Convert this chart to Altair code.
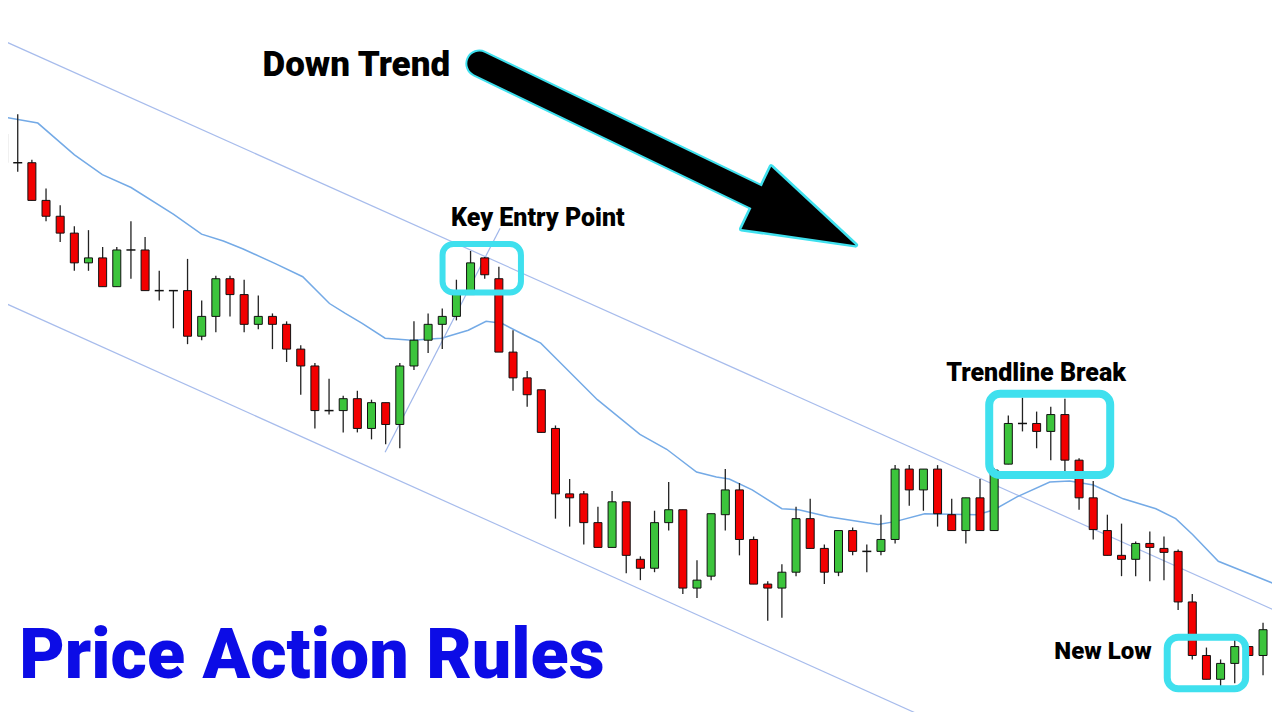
import altair as alt
import pandas as pd

# ---- candle data (index, open, high, low, close) ----
opens = [591, 562, 562, 524, 508, 491, 461, 466, 437, 474, 474, 433, 433, 433, 387, 407, 445, 429, 399, 407,
         399, 374, 357, 312, 312, 324, 294, 320, 298, 357, 383, 399, 407, 429, 466, 445, 371, 345, 333, 294,
         228, 228, 199, 174, 220, 162, 153, 199, 212, 133, 145, 207, 232, 182, 137, 133, 149, 203, 173, 149,
         191, 170, 170, 182, 253, 232, 253, 207, 191, 224, 191, 258, 299, 299, 291, 308, 262, 224, 191, 166,
         162, 178, 173, 170, 119, 65, 41, 57, 74, 65, 91]
highs = [605, 611, 565, 536, 519, 498, 494, 477, 477, 503, 487, 453, 433, 465, 423, 448, 448, 444, 428, 410,
         402, 378, 360, 344, 327, 332, 323, 320, 360, 402, 410, 415, 444, 473, 467, 457, 393, 352, 333, 297,
         243, 231, 215, 231, 220, 165, 211, 240, 212, 161, 208, 253, 239, 185, 140, 157, 215, 223, 177, 191,
         194, 177, 207, 257, 257, 253, 257, 223, 224, 243, 254, 307, 325, 311, 316, 324, 264, 241, 207, 198,
         180, 190, 185, 172, 127, 73, 61, 82, 74, 98, 98]
lows = [560, 553, 524, 503, 482, 453, 453, 437, 437, 445, 433, 423, 395, 379, 383, 391, 407, 391, 394, 374,
        361, 328, 294, 308, 290, 290, 283, 278, 274, 353, 370, 374, 403, 429, 445, 371, 332, 316, 290, 203,
        195, 177, 174, 174, 148, 141, 149, 191, 127, 123, 141, 191, 166, 137, 100, 103, 145, 173, 137, 145,
        166, 149, 166, 178, 216, 211, 195, 191, 178, 191, 191, 258, 291, 274, 262, 250, 212, 182, 166, 145,
        145, 140, 141, 111, 61, 41, 32, 37, 65, 45, 70]
closes = [562, 562, 524, 508, 491, 461, 466, 437, 474, 474, 433, 433, 433, 387, 407, 445, 429, 399, 407, 399,
          374, 357, 312, 312, 324, 294, 320, 298, 357, 383, 399, 407, 429, 461, 449, 371, 345, 328, 290, 228,
          224, 199, 174, 220, 166, 153, 199, 212, 133, 141, 208, 232, 182, 137, 133, 149, 203, 173, 149, 191,
          170, 170, 182, 253, 232, 253, 208, 191, 224, 191, 252, 299, 299, 291, 308, 262, 224, 192, 166, 162,
          178, 174, 169, 119, 65, 41, 57, 74, 65, 91, 74]

# ---- moving average (candle index, value) ----
ma_x = [0.1, 2.42, 5.01, 6.98, 9.01, 12.02, 13.99, 15.53, 16.93, 19.24, 21.14, 23.03, 24.15, 25.34, 26.96,
        28.85, 30.95, 32.84, 34.1, 35.2, 36.56, 37.96, 39.15, 41.96, 44.97, 46.86, 48.97, 50.37, 51.28, 52.9,
        55.0, 56.19, 58.29, 61.8, 62.99, 65.09, 68.81, 70.0, 71.61, 73.93, 75.33, 77.01, 79.12, 81.43, 82.83,
        84.02, 85.84, 87.95, 89.84]
ma_y = [608, 602, 570, 550, 537, 510, 490, 483, 475, 460, 447, 420, 410, 400, 385,
        383, 385, 393, 402, 400, 390, 380, 363, 323, 288, 273, 250, 245, 243, 232,
        213, 212, 205, 197, 200, 208, 207, 212, 225, 240, 241, 237, 223, 213, 203,
        187, 160, 148, 137]

# ---- channel / trend lines (index, value pairs) ----
upper_x, upper_y = [0, 91], [685, 103]
lower_x, lower_y = [0, 66], [421, -3]
entry_x, entry_y = [26.96, 35.09], [270, 496]

# ---- annotations ----
boxes = pd.DataFrame({
    "x": [31.02, 69.65, 82.23], "x2": [36.56, 78.2, 87.77],
    "y": [480, 329, 83.5], "y2": [431, 247, 31.5], "w": [6, 8, 7],
})
labels = ["Key Entry Point", "Trendline Break", "New Low"]
label_x = [31.62, 66.61, 74.25]
label_y = [498, 342, 61]
label_size = [25, 25, 24]

arrow_x, arrow_y = [33.62, 53.39], [662, 526]
head_x, head_y = [56.7], [502.75]

FONT = "Roboto"

XD = [0.666, 89.28]
YD = [8, 712]
xs = alt.Scale(domain=XD, nice=False, zero=False)
ys = alt.Scale(domain=YD, nice=False, zero=False)

n = len(opens)
df = pd.DataFrame({"i": list(range(n)), "open": opens, "high": highs, "low": lows, "close": closes})
df["dir"] = ["up" if c > o else ("down" if c < o else "flat") for o, c in zip(opens, closes)]
bodies = df[df["dir"] != "flat"]
dojis = df[df["dir"] == "flat"]

X = lambda f: alt.X(f, type="quantitative", scale=xs, axis=None)
Y = lambda f: alt.Y(f, type="quantitative", scale=ys, axis=None)


def line_layer(xv, yv, color, width):
    d = pd.DataFrame({"x": xv, "y": yv})
    return alt.Chart(d).mark_line(color=color, strokeWidth=width, clip=True).encode(x=X("x"), y=Y("y"))


upper = line_layer(upper_x, upper_y, "#a7bcec", 1.2)
lower = line_layer(lower_x, lower_y, "#a7bcec", 1.2)
entry = line_layer(entry_x, entry_y, "#9fb6ea", 1.2)
ma = line_layer(ma_x, ma_y, "#74aae6", 1.5)

wicks = alt.Chart(df).mark_rule(color="#222222", strokeWidth=1.3, clip=True).encode(
    x=X("i"), y=Y("low"), y2="high")
body = alt.Chart(bodies).mark_bar(size=8, stroke="#111111", strokeWidth=1, clip=True).encode(
    x=X("i"), y=Y("open"), y2="close",
    fill=alt.Fill("dir:N", scale=alt.Scale(domain=["up", "down"], range=["#3cc43c", "#f20000"]), legend=None))
doji = alt.Chart(dojis).mark_tick(orient="horizontal", size=9, thickness=1.5, color="#111111",
                                  opacity=1, clip=True).encode(x=X("i"), y=Y("open"))

box_layer = alt.Chart(boxes).mark_rect(fillOpacity=0, stroke="#3fe0ee", cornerRadius=11, clip=True).encode(
    x=X("x"), x2="x2", y=Y("y"), y2="y2", strokeWidth=alt.StrokeWidth("w:Q", scale=None, legend=None))

lab = alt.Chart(pd.DataFrame({"t": labels, "x": label_x, "y": label_y, "s": label_size})).mark_text(
    font=FONT, fontWeight=900, align="left", baseline="alphabetic",
    color="#000000").encode(x=X("x"), y=Y("y"), text="t:N",
                            size=alt.Size("s:Q", scale=None, legend=None))

title = alt.Chart(pd.DataFrame({"t": ["Price Action Rules"], "x": [1.1], "y": [42]})).mark_text(
    font=FONT, fontWeight=900, fontSize=70, align="left", baseline="alphabetic",
    color="#0c0ce6").encode(x=X("x"), y=Y("y"), text="t:N")

down = alt.Chart(pd.DataFrame({"t": ["Down Trend"], "x": [18.3], "y": [649]})).mark_text(
    font=FONT, fontWeight=900, fontSize=35, align="left", baseline="alphabetic",
    color="#000000").encode(x=X("x"), y=Y("y"), text="t:N")

shaft_df = pd.DataFrame({"x": arrow_x, "y": arrow_y})
head_df = pd.DataFrame({"x": head_x, "y": head_y})
HEAD = "M-1,-0.627L1,0L-1,0.627Z"
shaft_c = alt.Chart(shaft_df).mark_line(color="#3fe0ee", strokeWidth=28, strokeCap="round").encode(
    x=X("x"), y=Y("y"))
head_c = alt.Chart(head_df).mark_point(shape=HEAD, size=12100, angle=25.5, filled=True, fill="#3fe0ee",
                                       stroke="#3fe0ee", strokeWidth=5, opacity=1,
                                       strokeJoin="round").encode(x=X("x"), y=Y("y"))
shaft_b = alt.Chart(shaft_df).mark_line(color="#000000", strokeWidth=24, strokeCap="round").encode(
    x=X("x"), y=Y("y"))
head_b = alt.Chart(head_df).mark_point(shape=HEAD, size=12100, angle=25.5, filled=True, fill="#000000",
                                       strokeWidth=0, opacity=1).encode(x=X("x"), y=Y("y"))

chart = alt.layer(
    upper, lower, ma, entry, wicks, body, doji, box_layer, lab, title, down,
    shaft_c, head_c, shaft_b, head_b
).properties(
    width=1264, height=704, padding=0, background="white",
    autosize=alt.AutoSizeParams(type="fit", contains="padding"),
).configure_view(stroke=None)

chart.save("out.html", embed_options={"renderer": "svg", "actions": False})
